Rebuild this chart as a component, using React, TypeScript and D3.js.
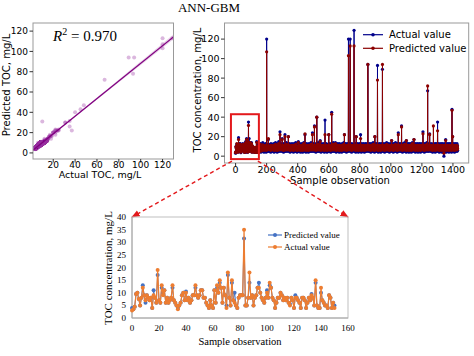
import React from 'react';
import * as d3 from 'd3';

// ---------------- DATA ----------------
// Actual TOC (mg/L) for each sample observation (index = sample number)
const actual: number[] = [
  3,3.5,4.5,9.5,10,7.5,5,8,12,9,7,9,8,7,8,4,9,8,6,19,
  7,6,13,9,11,6,8,6,7,8,13,7,6,5,3.5,5,6,9,10,7,
  10,7,8,6,7,9,9,13,9,8,9,11,11,8,8,6,5,4,7,5,
  4,11,6,13,10,15,12,6,12,9,4,18,8,5,15,7,6,5,4,8,
  9,9,9,35,5,5,8,18,8,9,5,8,9,12,12,10,8,7,6,8,
  10,8,14,12,8,7,4,6,8,8,10,9,7,8,7,8,6,5,8,7,
  4,8,8,7,6,4,8,8,7,4,6,8,7,9,8,5,15,5,4,4,
  12,7,6,5,5,4,9,8,4,6,4,7,9,6,11,8,5,10,7,13,
  8,6,9,4,7,11,8,6,12,9,5,8,7,10,6,14,8,5,9,7,
  6,10,8,4,9,12,7,6,8,11,5,9,7,13,8,6,10,4,8,7,
  120,9,6,11,8,5,10,7,12,6,8,17,7,9,5,11,8,6,10,7,
  8,5,12,9,6,10,4,8,13,7,9,6,11,8,5,10,7,12,6,9,
  7,11,5,8,10,6,13,8,4,9,7,12,8,6,10,5,9,14,7,8,
  6,10,8,12,5,9,7,11,4,8,10,6,13,9,7,5,11,8,15,6,
  9,7,12,8,5,10,25,8,11,6,9,13,7,10,5,8,12,6,9,7,
  18,8,6,11,9,5,12,7,10,4,8,13,6,9,11,7,5,10,22,8,
  7,12,6,9,5,11,8,14,7,10,6,8,12,5,9,7,11,6,10,8,
  20,6,9,12,7,5,10,8,13,6,9,4,11,7,8,12,6,10,5,9,
  8,11,6,13,7,9,5,10,8,12,6,7,11,4,9,8,13,6,10,7,
  9,5,12,8,6,10,7,14,8,5,11,9,6,10,7,12,4,8,9,6,
  11,7,10,5,15,8,12,6,9,7,11,5,8,13,6,10,7,9,4,12,
  8,6,11,9,5,10,7,13,8,6,12,9,4,10,7,11,8,5,9,14,
  6,8,10,7,12,5,9,22,8,6,11,7,10,4,9,12,6,8,13,7,
  9,5,11,8,6,10,7,12,9,4,8,11,6,13,7,9,5,10,8,12,
  6,9,7,11,5,8,14,6,10,7,12,8,5,9,11,24,7,10,6,8,
  12,5,9,7,13,8,6,10,31,7,11,5,9,8,12,6,10,4,8,13,
  7,9,6,40,8,11,5,10,7,12,6,9,8,14,5,10,7,11,6,8,
  9,12,5,8,10,16,7,6,11,9,4,13,8,10,6,7,12,5,9,8,
  11,6,10,7,13,8,5,9,12,6,8,10,4,11,7,9,37,8,6,12,
  7,10,5,9,13,8,6,11,7,4,10,8,12,6,9,7,11,5,8,10,
  22,6,9,12,7,5,10,8,13,6,11,7,9,4,8,12,6,10,7,45,
  8,6,11,9,5,12,7,10,8,14,6,9,5,11,7,8,12,6,10,9,
  5,13,7,14,8,6,10,9,4,11,7,12,8,5,9,10,6,13,7,8,
  11,5,9,7,12,6,10,8,4,13,9,6,11,7,8,10,5,12,6,9,
  7,11,8,4,10,6,13,9,7,12,5,8,10,6,11,9,7,14,8,5,
  10,22,6,9,12,7,5,11,8,13,6,9,7,10,4,12,8,6,11,9,
  7,13,5,8,10,6,12,120,9,7,11,5,8,10,6,13,7,9,120,8,
  6,11,9,5,12,7,10,4,8,13,6,9,7,11,8,5,10,12,6,9,
  7,11,8,129,6,10,5,9,12,7,8,13,6,10,4,9,11,20,7,8,
  12,6,10,5,9,13,7,8,11,6,10,4,12,8,9,5,11,7,13,6,
  8,10,5,12,9,22,7,6,11,8,4,10,13,7,9,5,12,8,6,10,
  7,11,9,5,13,6,8,10,7,12,4,9,11,6,8,10,5,13,7,9,
  12,6,8,10,5,11,7,9,13,6,10,8,94,7,5,11,9,12,6,8,
  10,7,13,5,9,11,6,8,12,7,10,4,9,13,6,11,8,7,10,5,
  12,8,6,9,11,7,14,5,10,8,6,12,9,7,11,4,8,20,6,10,
  13,7,9,5,11,8,6,12,10,7,9,13,5,8,93,6,11,7,10,4,
  12,8,9,6,11,7,13,5,10,8,9,12,6,7,11,4,10,8,13,6,
  9,7,11,5,12,8,89,10,6,9,13,7,5,11,8,10,6,12,7,9,
  4,11,8,13,6,10,7,9,12,5,8,11,6,14,7,9,10,5,12,8,
  6,11,7,9,13,5,10,8,6,12,7,4,11,9,8,10,6,13,7,5,
  11,8,9,12,6,16,7,10,5,13,8,6,11,9,7,12,4,10,8,9,
  13,6,11,7,5,10,8,12,9,6,14,7,10,5,11,8,6,12,9,7,
  10,4,13,8,6,11,9,7,24,5,12,8,10,6,9,13,7,11,5,8,
  12,6,10,9,7,13,5,11,8,31,6,10,7,12,9,4,8,11,6,13,
  7,10,9,5,12,8,6,11,7,14,9,5,10,8,13,6,7,11,9,4,
  16,8,12,6,10,7,9,13,5,11,8,6,12,10,7,9,4,13,8,6,
  11,9,7,12,5,10,8,6,13,9,7,11,4,10,8,12,6,9,14,7,
  5,11,8,10,6,12,9,7,13,17,5,10,8,6,11,9,7,12,4,10,
  8,13,6,9,11,7,5,12,8,10,6,9,13,7,11,4,8,10,6,12,
  9,7,11,5,13,8,6,10,9,12,7,4,11,8,6,13,9,10,5,8,
  12,7,9,11,6,10,8,25,5,13,7,9,11,6,8,12,4,10,7,9,
  13,6,11,8,5,10,12,7,9,6,11,8,14,5,10,7,9,67,8,6,
  11,9,5,12,7,10,8,13,6,9,23,7,11,5,10,8,12,6,9,7,
  13,8,5,11,9,6,10,7,12,4,8,11,9,6,10,13,7,8,5,12,
  9,6,11,7,10,8,4,13,9,6,12,7,10,8,5,11,9,13,6,8,
  10,35,7,12,5,9,11,8,6,13,7,10,4,9,12,8,6,11,7,10,
  9,5,13,8,6,11,10,7,12,4,9,8,13,6,10,7,11,5,9,12,
  8,6,0,10,7,13,9,5,11,8,6,12,10,17,7,9,4,13,8,11,
  6,10,7,12,9,5,11,8,13,6,10,7,9,12,4,11,8,6,10,13,
  7,9,5,12,8,11,6,10,7,13,9,4,11,8,48,6,10,12,20,7,
  9,11,5,8,13,6,10,7,12,9,4,11,8,6,10,13,7,9,5,12,
  8,11,6,10,7,9,13,5,8,11,6,
];

// Predicted TOC (mg/L) by the ANN-GBM model, same sample order
const predicted: number[] = [
  4,3.5,4.5,9.5,10,7.5,5,8,13,9,6,9,8,7,8,4,11,8,6,17,
  7,6,12,10,11,6,8,6,7,8,12,7,6,5,4,5,6,9,10,7,
  10.5,7,8,6,7,9,9,12,9,8,9,11,11,8,8,6,5,4,7,5,
  4,11,6,12,10,14,12,6,12,9,5,17,8,5,14,7,10,5,4,8,
  9,9,9,31.5,5,5,8,14,8,9,5,8,9,12,14,10,8,7,6,8,
  11,8,13,12,8,7,4,6,8,8,10,9,7,8,7,8,6,5.5,8,7,
  4,9,8,7,6,4,8,8,7,4,6,8,7,9.5,8,5,14,5,4,4,
  10,7,6,5,5,4,9,8,4,6,5,8,9,7,10,8,5,11,7,12,
  9.5,7,8,6,8.5,9,10,5.5,10,11,7,7.5,9,8.5,7,11.5,9,7,8,9.5,
  7.5,8.5,10,6,7.5,10,8.5,7,9.5,9,7,10.5,8,11,9.5,7,8.5,6,9.5,8,
  107,10.5,7.5,9,9.5,6.5,8.5,8,10,7.5,9.5,18,8.5,7.5,7,9.5,10,7,8.5,9,
  9.5,7,10,10.5,7.5,8.5,6,9.5,11,8.5,7.5,7.5,9.5,10,6.5,8.5,8.5,10,7.5,10.5,
  8.5,9.5,7,9.5,8.5,7.5,11,9.5,6,7.5,8.5,10,9.5,7.5,8.5,6.5,10.5,12,8.5,6.5,
  7.5,8.5,9.5,10,6.5,10.5,8.5,9.5,6,9.5,8.5,7.5,11,7.5,8.5,6.5,9.5,9.5,13,7.5,
  10.5,8.5,10,9.5,6.5,8.5,22,9.5,9.5,7.5,10.5,11,8.5,8.5,6.5,9.5,10,7.5,7.5,8.5,
  17,9.5,7.5,9.5,10.5,6.5,10,8.5,8.5,6,9.5,11,7.5,10.5,9.5,8.5,6.5,8.5,20,9.5,
  8.5,10,7.5,10.5,6.5,9.5,9.5,12,8.5,8.5,7.5,9.5,10,6.5,10.5,8.5,9.5,7.5,8.5,9.5,
  20,7.5,10.5,10,8.5,6.5,8.5,9.5,11,7.5,7.5,6,9.5,8.5,9.5,10,7.5,8.5,6.5,10.5,
  9.5,9.5,7.5,11,8.5,10.5,6.5,8.5,9.5,10,7.5,8.5,9.5,6,10.5,9.5,11,7.5,8.5,8.5,
  7.5,6.5,10,9.5,7.5,8.5,8.5,12,9.5,6.5,9.5,10.5,7.5,8.5,8.5,10,6,9.5,7.5,7.5,
  9.5,8.5,8.5,6.5,14,9.5,10,7.5,10.5,8.5,9.5,6.5,9.5,11,7.5,8.5,8.5,10.5,6,10,
  9.5,7.5,9.5,10.5,6.5,8.5,8.5,11,9.5,7.5,10,7.5,6,8.5,8.5,9.5,9.5,6.5,10.5,13,
  7.5,9.5,8.5,8.5,10,6.5,10.5,23,9.5,7.5,9.5,8.5,8.5,6,10.5,10,7.5,9.5,11,8.5,
  7.5,6.5,9.5,9.5,7.5,8.5,8.5,10,10.5,6,9.5,9.5,7.5,11,8.5,10.5,6.5,8.5,9.5,10,
  7.5,10.5,8.5,9.5,6.5,9.5,12,7.5,8.5,8.5,10,9.5,6.5,10.5,9.5,22,8.5,8.5,7.5,9.5,
  10,6.5,10.5,8.5,11,9.5,7.5,8.5,30,8.5,9.5,6.5,7.5,9.5,10,7.5,8.5,6,9.5,11,
  8.5,10.5,7.5,40,9.5,9.5,6.5,8.5,8.5,10,7.5,10.5,9.5,12,6.5,8.5,8.5,9.5,7.5,9.5,
  10.5,10,6.5,9.5,8.5,15,8.5,7.5,9.5,10.5,6,11,9.5,8.5,7.5,8.5,10,6.5,10.5,9.5,
  9.5,7.5,8.5,8.5,11,9.5,6.5,10.5,10,7.5,9.5,8.5,6,9.5,8.5,10.5,22,9.5,7.5,10,
  8.5,8.5,6.5,10.5,11,9.5,7.5,9.5,8.5,6,8.5,9.5,10,7.5,10.5,8.5,9.5,6.5,9.5,8.5,
  22,7.5,10.5,10,8.5,6.5,8.5,9.5,11,7.5,9.5,8.5,10.5,6,9.5,10,7.5,8.5,8.5,43,
  9.5,7.5,9.5,10.5,6.5,10,8.5,8.5,9.5,12,7.5,10.5,6.5,9.5,8.5,9.5,10,7.5,8.5,10.5,
  6.5,11,8.5,13,9.5,7.5,8.5,10.5,6,9.5,8.5,10,9.5,6.5,10.5,8.5,7.5,11,8.5,9.5,
  9.5,6.5,10.5,8.5,10,7.5,8.5,9.5,6,11,10.5,7.5,9.5,8.5,9.5,8.5,6.5,10,7.5,10.5,
  8.5,9.5,9.5,6,8.5,7.5,11,10.5,8.5,10,6.5,9.5,8.5,7.5,9.5,10.5,8.5,12,9.5,6.5,
  8.5,22,7.5,10.5,10,8.5,6.5,9.5,9.5,11,7.5,10.5,8.5,8.5,6,10,9.5,7.5,9.5,10.5,
  8.5,11,6.5,9.5,8.5,7.5,10,103,10.5,8.5,9.5,6.5,9.5,8.5,7.5,11,8.5,10.5,113,9.5,
  7.5,9.5,10.5,6.5,10,8.5,8.5,6,9.5,11,7.5,10.5,8.5,9.5,9.5,6.5,8.5,10,7.5,10.5,
  8.5,9.5,9.5,113,7.5,8.5,6.5,10.5,10,8.5,9.5,11,7.5,8.5,6,10.5,9.5,20,8.5,9.5,
  10,7.5,8.5,6.5,10.5,11,8.5,9.5,9.5,7.5,8.5,6,10,9.5,10.5,6.5,9.5,8.5,11,7.5,
  9.5,8.5,6.5,10,10.5,18,8.5,7.5,9.5,9.5,6,8.5,11,8.5,10.5,6.5,10,9.5,7.5,8.5,
  8.5,9.5,10.5,6.5,11,7.5,9.5,8.5,8.5,10,6,10.5,9.5,7.5,9.5,8.5,6.5,11,8.5,10.5,
  10,7.5,9.5,8.5,6.5,9.5,8.5,10.5,11,7.5,8.5,9.5,94,8.5,6.5,9.5,10.5,10,7.5,9.5,
  8.5,8.5,11,6.5,10.5,9.5,7.5,9.5,10,8.5,8.5,6,10.5,11,7.5,9.5,9.5,8.5,8.5,6.5,
  10,9.5,7.5,10.5,9.5,8.5,12,6.5,8.5,9.5,7.5,10,10.5,8.5,9.5,6,9.5,20,7.5,8.5,
  11,8.5,10.5,6.5,9.5,9.5,7.5,10,8.5,8.5,10.5,11,6.5,9.5,78,7.5,9.5,8.5,8.5,6,
  10,9.5,10.5,7.5,9.5,8.5,11,6.5,8.5,9.5,10.5,10,7.5,8.5,9.5,6,8.5,9.5,11,7.5,
  10.5,8.5,9.5,6.5,10,9.5,94,8.5,7.5,10.5,11,8.5,6.5,9.5,9.5,8.5,7.5,10,8.5,10.5,
  6,9.5,9.5,11,7.5,8.5,8.5,10.5,10,6.5,9.5,9.5,7.5,12,8.5,10.5,8.5,6.5,10,9.5,
  7.5,9.5,8.5,10.5,11,6.5,8.5,9.5,7.5,10,8.5,6,9.5,10.5,9.5,8.5,7.5,11,8.5,6.5,
  9.5,9.5,10.5,10,7.5,16,8.5,8.5,6.5,11,9.5,7.5,9.5,10.5,8.5,10,6,8.5,9.5,10.5,
  11,7.5,9.5,8.5,6.5,8.5,9.5,10,10.5,7.5,12,8.5,8.5,6.5,9.5,9.5,7.5,10,10.5,8.5,
  8.5,6,11,9.5,7.5,9.5,10.5,8.5,22,6.5,10,9.5,8.5,7.5,10.5,11,8.5,9.5,6.5,9.5,
  10,7.5,8.5,10.5,8.5,11,6.5,9.5,9.5,30,7.5,8.5,8.5,10,10.5,6,9.5,9.5,7.5,11,
  8.5,8.5,10.5,6.5,10,9.5,7.5,9.5,8.5,12,10.5,6.5,8.5,9.5,11,7.5,8.5,9.5,10.5,6,
  16,9.5,10,7.5,8.5,8.5,10.5,11,6.5,9.5,9.5,7.5,10,8.5,8.5,10.5,6,11,9.5,7.5,
  9.5,10.5,8.5,10,6.5,8.5,9.5,7.5,11,10.5,8.5,9.5,6,8.5,9.5,10,7.5,10.5,13,8.5,
  6.5,9.5,9.5,8.5,7.5,10,10.5,8.5,11,17,6.5,8.5,9.5,7.5,9.5,10.5,8.5,10,6,8.5,
  9.5,11,7.5,10.5,9.5,8.5,6.5,10,9.5,8.5,7.5,10.5,11,8.5,9.5,6,9.5,8.5,7.5,10,
  10.5,8.5,9.5,6.5,11,9.5,7.5,8.5,10.5,10,8.5,6,9.5,9.5,7.5,11,10.5,8.5,6.5,9.5,
  10,8.5,10.5,9.5,7.5,8.5,9.5,23,6.5,11,8.5,10.5,9.5,7.5,9.5,10,6,8.5,8.5,10.5,
  11,7.5,9.5,9.5,6.5,8.5,10,8.5,10.5,7.5,9.5,9.5,12,6.5,8.5,8.5,10.5,72,9.5,7.5,
  9.5,10.5,6.5,10,8.5,8.5,9.5,11,7.5,10.5,22,8.5,9.5,6.5,8.5,9.5,10,7.5,10.5,8.5,
  11,9.5,6.5,9.5,10.5,7.5,8.5,8.5,10,6,9.5,9.5,10.5,7.5,31,11,8.5,9.5,6.5,10,
  10.5,7.5,9.5,8.5,8.5,9.5,6,11,10.5,7.5,10,8.5,8.5,9.5,6.5,9.5,10.5,11,7.5,9.5,
  8.5,26,8.5,10,6.5,10.5,9.5,9.5,7.5,11,8.5,8.5,6,10.5,10,9.5,7.5,9.5,8.5,8.5,
  10.5,6.5,11,9.5,7.5,9.5,8.5,8.5,10,6,10.5,9.5,11,7.5,8.5,8.5,9.5,6.5,10.5,10,
  9.5,7.5,3,8.5,8.5,11,10.5,6.5,9.5,9.5,7.5,10,8.5,16,8.5,10.5,6,11,9.5,9.5,
  7.5,8.5,8.5,10,10.5,6.5,9.5,9.5,11,7.5,8.5,8.5,10.5,10,6,9.5,9.5,7.5,8.5,11,
  8.5,10.5,6.5,10,9.5,9.5,7.5,8.5,8.5,11,10.5,6,9.5,9.5,47,7.5,8.5,10,20,8.5,
  10.5,9.5,6.5,9.5,11,7.5,8.5,8.5,10,10.5,6,9.5,9.5,7.5,8.5,11,8.5,10.5,6.5,10,
  9.5,9.5,7.5,8.5,8.5,10.5,11,6.5,9.5,9.5,7.5,
];

const insetCount = 151; // samples 0..150 shown in the enlarged inset
const r2Label = '0.970';

const scatterTicksX = [20, 40, 60, 80, 100, 120];
const scatterTicksY = [0, 20, 40, 60, 80, 100, 120];
const seriesTicksX = [0, 200, 400, 600, 800, 1000, 1200, 1400];
const seriesTicksY = [0, 20, 40, 60, 80, 100, 120];
const insetTicksX = [0, 20, 40, 60, 80, 100, 120, 140, 160];
const insetTicksY = [0, 5, 10, 15, 20, 25, 30, 35, 40];

// ---------------- STYLE ----------------
const SANS = 'DejaVu Sans, sans-serif';
const SERIF = 'Liberation Serif, Times New Roman, serif';
const BLUE_DARK = '#00008b';
const RED_DARK = '#8b0000';
const XL_BLUE = '#4472C4';
const XL_ORANGE = '#ED7D31';
const PURPLE = '#800080';

export default function App() {
  const n = Math.min(actual.length, predicted.length);
  const act = actual.slice(0, n);
  const pred = predicted.slice(0, n);

  // ---------- Panel 1: scatter ----------
  const p1 = { l: 33, r: 173.5, t: 23, b: 159 };
  const sx = d3.scaleLinear().domain([1.5, 130]).range([p1.l, p1.r]);
  const sy = d3.scaleLinear().domain([-6, 128]).range([p1.b, p1.t]);

  const mx = d3.mean(act) as number;
  const my = d3.mean(pred) as number;
  let sxx = 0, sxy = 0;
  for (let i = 0; i < n; i++) {
    sxx += (act[i] - mx) ** 2;
    sxy += (act[i] - mx) * (pred[i] - my);
  }
  const slope = sxy / sxx;
  const intercept = my - slope * mx;
  let sse = 0;
  for (let i = 0; i < n; i++) sse += (pred[i] - (intercept + slope * act[i])) ** 2;
  const s = Math.sqrt(sse / (n - 2));
  const xs = d3.range(0, 61).map((k) => (132 * k) / 60);
  const ci = (x: number) => 1.96 * 2 * s * Math.sqrt(1 / n + (x - mx) ** 2 / sxx);
  const band = d3
    .area<number>()
    .x((x) => sx(x))
    .y0((x) => sy(intercept + slope * x - ci(x)))
    .y1((x) => sy(intercept + slope * x + ci(x)))(xs) as string;

  // ---------- Panel 2: time series ----------
  const p2 = { l: 224.5, r: 468.7, t: 23, b: 163 };
  const tx = d3.scaleLinear().domain([-71.5, 1501.5]).range([p2.l, p2.r]);
  const ty = d3.scaleLinear().domain([-7, 136.5]).range([p2.b, p2.t]);
  const tline = d3
    .line<number>()
    .x((_, i) => tx(i))
    .y((d) => ty(d));
  const zoomWin = { x0: -30, x1: 150, y0: -3, y1: 43 };
  const zr = {
    x: tx(zoomWin.x0),
    y: ty(zoomWin.y1),
    w: tx(zoomWin.x1) - tx(zoomWin.x0),
    h: ty(zoomWin.y0) - ty(zoomWin.y1),
  };

  // ---------- Panel 3: inset ----------
  const p3 = { l: 132, r: 348, t: 217, b: 318 };
  const ix = d3.scaleLinear().domain([0, 160]).range([p3.l, p3.r]);
  const iy = d3.scaleLinear().domain([0, 40]).range([p3.b, p3.t]);
  const insetA = act.slice(0, insetCount);
  const insetP = pred.slice(0, insetCount);
  const iline = d3
    .line<number>()
    .x((_, i) => ix(i))
    .y((d) => iy(d));

  return (
    <svg
      width={474}
      height={356}
      style={{ position: 'absolute', left: 0, top: 0, background: '#fff' }}
    >
      <defs>
        <clipPath id="c1">
          <rect x={p1.l} y={p1.t} width={p1.r - p1.l} height={p1.b - p1.t} />
        </clipPath>
        <clipPath id="c2">
          <rect x={p2.l} y={p2.t} width={p2.r - p2.l} height={p2.b - p2.t} />
        </clipPath>
        <marker id="arr" viewBox="0 0 10 10" refX="9" refY="5" markerWidth="6" markerHeight="6" orient="auto">
          <path d="M0,1 L10,5 L0,9 z" fill="#e3191c" />
        </marker>
      </defs>
      <rect width={474} height={356} fill="#fff" />

      {/* Title */}
      <text x={209} y={12} fontFamily={SERIF} fontSize={13} textAnchor="middle">
        ANN-GBM
      </text>

      {/* ===== Panel 1 ===== */}
      <g clipPath="url(#c1)">
        <path d={band} fill={PURPLE} fillOpacity={0.18} />
        {act.map((a, i) => (
          <circle key={i} cx={sx(a)} cy={sy(pred[i])} r={2} fill="#9932a0" fillOpacity={0.35} />
        ))}
        <line
          x1={sx(0)}
          y1={sy(intercept)}
          x2={sx(132)}
          y2={sy(intercept + slope * 132)}
          stroke={PURPLE}
          strokeWidth={1.2}
        />
      </g>
      <rect x={p1.l} y={p1.t} width={p1.r - p1.l} height={p1.b - p1.t} fill="none" stroke="#999" strokeWidth={1} />
      {scatterTicksX.map((t) => (
        <g key={t}>
          <line x1={sx(t)} x2={sx(t)} y1={p1.b} y2={p1.b + 3.5} stroke="#333" />
          <text x={sx(t)} y={168} fontFamily={SANS} fontSize={9} textAnchor="middle">
            {t}
          </text>
        </g>
      ))}
      {scatterTicksY.map((t) => (
        <g key={t}>
          <line x1={p1.l - 3.5} x2={p1.l} y1={sy(t)} y2={sy(t)} stroke="#333" />
          <text x={p1.l - 5} y={sy(t) + 3.2} fontFamily={SANS} fontSize={9} textAnchor="end">
            {t}
          </text>
        </g>
      ))}
      <text x={100} y={178} fontFamily={SANS} fontSize={9.5} textAnchor="middle">
        Actual TOC, mg/L
      </text>
      <text
        transform="translate(9.5,85) rotate(-90)"
        fontFamily={SANS}
        fontSize={10}
        textAnchor="middle"
      >
        Predicted TOC, mg/L
      </text>
      <text x={53} y={41} fontFamily={SERIF} fontSize={15}>
        <tspan fontStyle="italic">R</tspan>
        <tspan fontSize={10} dy={-6}>2</tspan>
        <tspan dy={6}>{' = ' + r2Label}</tspan>
      </text>

      {/* ===== Panel 2 ===== */}
      <g clipPath="url(#c2)">
        <path d={tline(act) as string} fill="none" stroke={BLUE_DARK} strokeWidth={1} />
        {act.map((v, i) => (
          <circle key={'a' + i} cx={tx(i)} cy={ty(v)} r={1.6} fill={BLUE_DARK} />
        ))}
        <path d={tline(pred) as string} fill="none" stroke={RED_DARK} strokeWidth={1} />
        {pred.map((v, i) => (
          <circle key={'p' + i} cx={tx(i)} cy={ty(v)} r={1.6} fill={RED_DARK} />
        ))}
      </g>
      <rect x={p2.l} y={p2.t} width={p2.r - p2.l} height={p2.b - p2.t} fill="none" stroke="#999" strokeWidth={1} />
      {seriesTicksX.map((t) => (
        <g key={t}>
          <line x1={tx(t)} x2={tx(t)} y1={p2.b} y2={p2.b + 3.5} stroke="#333" />
          <text x={tx(t)} y={173} fontFamily={SANS} fontSize={9.5} textAnchor="middle">
            {t}
          </text>
        </g>
      ))}
      {seriesTicksY.map((t) => (
        <g key={t}>
          <line x1={p2.l - 3.5} x2={p2.l} y1={ty(t)} y2={ty(t)} stroke="#333" />
          <text x={p2.l - 5} y={ty(t) + 3.4} fontFamily={SANS} fontSize={9.5} textAnchor="end">
            {t}
          </text>
        </g>
      ))}
      <text x={340} y={184} fontFamily={SANS} fontSize={10} textAnchor="middle">
        Sample observation
      </text>
      <text
        transform="translate(200.5,90) rotate(-90)"
        fontFamily={SANS}
        fontSize={10}
        textAnchor="middle"
      >
        TOC concentration, mg/L
      </text>
      {/* legend */}
      <g>
        <line x1={363} x2={383} y1={34.7} y2={34.7} stroke={BLUE_DARK} strokeWidth={1.2} />
        <circle cx={373} cy={34.7} r={1.8} fill={BLUE_DARK} />
        <text x={389} y={38.2} fontFamily={SANS} fontSize={10}>
          Actual value
        </text>
        <line x1={363} x2={383} y1={48.3} y2={48.3} stroke={RED_DARK} strokeWidth={1.2} />
        <circle cx={373} cy={48.3} r={1.8} fill={RED_DARK} />
        <text x={389} y={51.8} fontFamily={SANS} fontSize={10}>
          Predicted value
        </text>
      </g>
      {/* zoom window */}
      <rect x={zr.x} y={zr.y} width={zr.w} height={zr.h} fill="none" stroke="#e3191c" strokeWidth={2} />

      {/* dashed connectors */}
      <line
        x1={zr.x + 1}
        y1={zr.y + zr.h + 2}
        x2={p3.l}
        y2={p3.t}
        stroke="#e3191c"
        strokeWidth={1.4}
        strokeDasharray="4 3"
        markerEnd="url(#arr)"
      />
      <line
        x1={zr.x + zr.w - 1}
        y1={zr.y + zr.h + 2}
        x2={p3.r}
        y2={p3.t}
        stroke="#e3191c"
        strokeWidth={1.4}
        strokeDasharray="4 3"
        markerEnd="url(#arr)"
      />

      {/* ===== Panel 3 ===== */}
      <rect x={p3.l} y={p3.t} width={p3.r - p3.l} height={p3.b - p3.t} fill="none" stroke="#bfbfbf" strokeWidth={1} />
      <line x1={p3.l} x2={p3.l} y1={p3.t} y2={p3.b} stroke="#a6a6a6" />
      <line x1={p3.l} x2={p3.r} y1={p3.b} y2={p3.b} stroke="#a6a6a6" />
      <path d={iline(insetP) as string} fill="none" stroke={XL_BLUE} strokeWidth={1} />
      {insetP.map((v, i) => (
        <circle key={'ip' + i} cx={ix(i)} cy={iy(v)} r={2} fill={XL_BLUE} />
      ))}
      <path d={iline(insetA) as string} fill="none" stroke={XL_ORANGE} strokeWidth={1.2} />
      {insetA.map((v, i) => (
        <circle key={'ia' + i} cx={ix(i)} cy={iy(v)} r={2} fill={XL_ORANGE} />
      ))}
      {insetTicksX.map((t) => (
        <text key={t} x={ix(t)} y={331} fontFamily={SERIF} fontSize={9} textAnchor="middle">
          {t}
        </text>
      ))}
      {insetTicksY.map((t) => (
        <text key={t} x={126} y={iy(t) + 3} fontFamily={SERIF} fontSize={9} textAnchor="end">
          {t}
        </text>
      ))}
      <text x={240} y={345} fontFamily={SERIF} fontSize={10.5} textAnchor="middle">
        Sample observation
      </text>
      <text
        transform="translate(112,268) rotate(-90)"
        fontFamily={SERIF}
        fontSize={11}
        textAnchor="middle"
      >
        TOC concentration, mg/L
      </text>
      <g>
        <line x1={268} x2={282} y1={235} y2={235} stroke={XL_BLUE} strokeWidth={1.2} />
        <circle cx={275} cy={235} r={2} fill={XL_BLUE} />
        <text x={284} y={238} fontFamily={SERIF} fontSize={9}>
          Predicted value
        </text>
        <line x1={268} x2={282} y1={247} y2={247} stroke={XL_ORANGE} strokeWidth={1.2} />
        <circle cx={275} cy={247} r={2} fill={XL_ORANGE} />
        <text x={284} y={250} fontFamily={SERIF} fontSize={9}>
          Actual value
        </text>
      </g>
    </svg>
  );
}
